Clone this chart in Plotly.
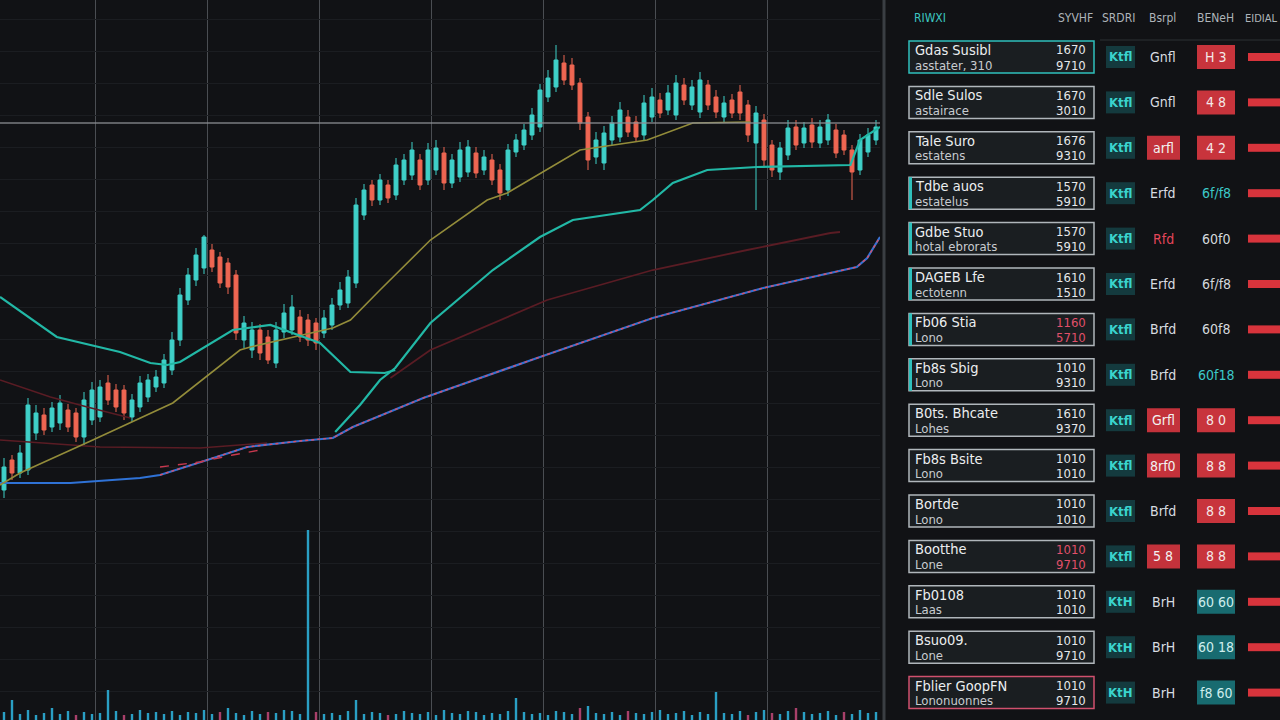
import plotly.graph_objects as go

W, H = 1280, 720

# ---------------- candle data (price units) ----------------
opens = [230,260,247,250,287,305,293,297,310,307,
         283,300,303,337,330,330,303,313,323,333,
         337,350,380,420,440,452,470,463,457,445,
         380,370,390,383,357,388,390,403,400,397,
         387,395,415,417,437,505,535,520,535,525,
         540,545,560,540,550,567,537,543,548,567,
         550,560,550,530,568,575,585,593,623,633,
         657,655,637,603,563,557,580,583,603,598,
         585,603,620,610,605,635,615,608,635,623,
         603,620,628,615,577,600,575,548,565,593,
         577,595,577,580,590,585,570,550,568,580]
closes = [253,247,267,315,307,290,312,317,293,283,
          320,330,333,320,313,307,320,337,340,343,
          360,380,425,445,465,483,453,437,433,387,
          397,390,367,360,390,407,413,383,380,377,
          402,415,430,443,515,530,520,540,522,555,
          560,570,535,570,572,537,560,570,573,547,
          563,540,527,570,580,590,605,630,642,660,
          640,635,597,560,580,587,597,610,588,583,
          617,623,607,627,637,620,633,640,615,608,
          617,607,607,585,607,560,550,572,592,575,
          592,578,593,600,567,570,548,580,585,593]
highs = [262,265,275,322,315,312,318,325,316,312,
         328,338,340,345,336,335,326,344,346,350,
         366,388,432,452,472,485,476,468,462,450,
         404,398,396,390,398,416,425,410,406,402,
         410,422,438,450,522,536,540,546,540,562,
         566,578,566,577,580,573,566,578,580,573,
         570,566,556,576,586,596,612,636,650,675,
         665,662,642,608,588,594,604,618,610,604,
         625,632,627,635,645,642,640,648,640,630,
         624,626,635,620,614,606,580,578,600,600,
         598,602,600,606,596,590,575,586,592,600]
lows = [222,240,242,245,280,285,288,290,288,278,
        275,295,298,315,308,300,298,308,318,328,
        332,345,374,415,434,446,448,432,426,380,
        372,362,360,356,352,382,385,378,374,370,
        382,390,410,412,432,500,514,515,517,520,
        535,540,530,535,545,530,532,538,543,542,
        545,535,520,524,563,570,580,588,618,628,
        635,630,590,550,556,550,575,578,583,578,
        580,598,602,605,600,615,610,602,610,602,
        598,602,600,578,510,552,543,540,560,570,
        572,572,572,575,562,565,520,545,563,575]
volume = [8,20,6,10,5,7,12,6,9,5,
          8,6,7,30,9,5,6,10,7,8,
          6,9,5,8,7,10,6,8,12,7,
          5,9,6,8,7,10,9,6,190,8,
          6,7,5,9,20,6,8,7,5,6,
          9,7,6,8,5,10,7,6,9,8,
          5,7,6,9,22,8,6,7,5,9,
          8,6,12,14,7,6,8,5,9,7,
          6,8,10,6,7,9,5,8,6,28,
          7,6,9,5,8,10,7,6,9,12,
          8,6,7,9,5,8,6,10,7,8]
bars = list(range(len(opens)))

# ---------------- indicator lines ----------------
ma_slow_x = [-0.5, 2, 11.1, 21.1, 29.5, 30.8, 41.1, 43.3, 47, 53.3, 60.4, 62.9, 72, 80.4, 86.1, 93.3]
ma_slow_y = [235, 247, 280, 317, 370, 373, 392, 400, 430, 480, 520, 527, 570, 580, 597, 598]

band_a_x = [-0.5, 6.6, 14.5, 18.3, 20.4, 22, 28.6, 33.3, 39.5, 43.3, 47.6, 48.9]
band_a_y = [423, 383, 368, 357, 355, 358, 390, 395, 377, 348, 347, 350]

band_b_x = [41.4, 44.5, 47, 48.9, 53.3, 61.1, 67, 71.1, 79.5, 81.1, 83.6, 87.9, 94.1, 105.8, 107, 109.5]
band_b_y = [288, 315, 340, 352, 397, 450, 483, 500, 510, 520, 537, 550, 553, 555, 580, 593]

base_x = [-0.5, 8.3, 17, 19.5, 25.4, 30.4, 37, 41.1, 43.6, 52.4, 67, 81.1, 94.9, 106.6, 107.9, 109.5]
base_y = [237, 237, 242, 245, 260, 273, 279, 282, 293, 322, 363, 402, 432, 453, 462, 483]

dash_x = [19.5, 24.5, 28.6, 32]
dash_y = [253, 258, 265, 270]

dark1_x = [-0.5, 5.8, 10.4, 15.8]
dark1_y = [340, 323, 313, 302]
dark2_x = [-0.5, 12, 24.5, 32.9]
dark2_y = [280, 273, 272, 277]
dark3_x = [48.3, 53.3, 67.9, 81.1, 92.9, 103.3, 104.5]
dark3_y = [342, 370, 420, 450, 470, 487, 488]

price_line = 597

# ---------------- side panel data ----------------
panel_headers = ["RIWXI", "SYVHF", "SRDRI", "Bsrpl", "BENeH", "EIDIAL"]
row_titles = ["Gdas Susibl", "Sdle Sulos", "Tale Suro", "Tdbe auos", "Gdbe Stuo",
              "DAGEB Lfe", "Fb06 Stia", "Fb8s Sbig", "B0ts. Bhcate", "Fb8s Bsite",
              "Bortde", "Bootthe", "Fb0108", "Bsuo09.", "Fblier GoopFN"]
row_subs = ["asstater, 310", "astairace", "estatens", "estatelus", "hotal ebrorats",
            "ectotenn", "Lono", "Lono", "Lohes", "Lono",
            "Lono", "Lone", "Laas", "Lone", "Lononuonnes"]
row_num_top = ["1670", "1670", "1676", "1570", "1570", "1610", "1160", "1010", "1610", "1010",
               "1010", "1010", "1010", "1010", "1010"]
row_num_bot = ["9710", "3010", "9310", "5910", "5910", "1510", "5710", "9310", "9370", "1010",
               "1010", "9710", "1010", "9710", "9710"]
row_num_red = [0, 0, 0, 0, 0, 0, 1, 0, 0, 0, 0, 1, 0, 0, 0]
row_border = ["teal", "gray", "gray", "accent", "accent", "accent", "accent", "accent",
              "gray", "gray", "gray", "gray", "gray", "gray", "pink"]
col2_text = ["Ktfl"] * 12 + ["KtH"] * 3
col3_text = ["Gnfl", "Gnfl", "arfl", "Erfd", "Rfd", "Erfd", "Brfd", "Brfd", "Grfl", "8rf0",
             "Brfd", "5 8", "BrH", "BrH", "BrH"]
col3_style = ["w", "w", "rb", "w", "rt", "w", "w", "w", "rb", "rb", "w", "rb", "w", "w", "w"]
col4_text = ["H 3", "4 8", "4 2", "6f/f8", "60f0", "6f/f8", "60f8", "60f18", "8 0", "8 8",
             "8 8", "8 8", "60 60", "60 18", "f8 60"]
col4_style = ["rb", "rb", "rb", "t", "w", "w", "w", "t", "rb", "rb", "rb", "rb", "tb", "tb", "tb"]

# ---------------- colours ----------------
BG = "#111215"
PANEL = "#22262a"
UP = "#3fd0c8"
DOWN = "#ee6652"
TEAL = "#22b8a6"
OLIVE = "#938c3a"
BLUE = "#2f72d6"
DARKRED = "#5a1c24"
COND = "DejaVu Sans Condensed, Liberation Sans Narrow, DejaVu Sans, sans-serif"

fig = go.Figure()

# volume bars: mostly blue-teal, a few pinkish
vol_colors = []
for i, (o, c) in enumerate(zip(opens, closes)):
    vol_colors.append("#a8406a" if (c < o and i % 3 == 0) else "#2a9fc4")
fig.add_trace(go.Bar(x=bars, y=volume, yaxis="y2", width=0.3,
                     marker=dict(color=vol_colors, line=dict(width=0)), hoverinfo="skip"))

def line(x, y, color, width=2, dash="solid", opacity=1.0):
    fig.add_trace(go.Scatter(x=x, y=y, mode="lines", line=dict(color=color, width=width, dash=dash),
                             opacity=opacity, hoverinfo="skip"))

line(dark1_x, dark1_y, DARKRED, 1.5)
line(dark2_x, dark2_y, DARKRED, 1.5)
line(dark3_x, dark3_y, DARKRED, 1.8)
line(base_x, base_y, BLUE, 2.2)
line(base_x[3:], base_y[3:], "#d8506a", 1.4, "dot")
line(dash_x, dash_y, "#c8384e", 1.4, "dash")
line(ma_slow_x, ma_slow_y, OLIVE, 1.6)
line(band_a_x, band_a_y, TEAL, 2.2)
line(band_b_x, band_b_y, TEAL, 2.2)

fig.add_trace(go.Candlestick(
    x=bars, open=opens, high=highs, low=lows, close=closes,
    increasing=dict(line=dict(color=UP, width=1), fillcolor=UP),
    decreasing=dict(line=dict(color=DOWN, width=1), fillcolor=DOWN),
    whiskerwidth=0, hoverinfo="skip"))

fig.add_hline(y=price_line, line=dict(color="#8c8f94", width=1.5), opacity=0.85)

# ---------------- side panel drawing ----------------
shapes = []
annots = []

def px(x):
    return x / W

def py(y):
    return 1 - y / H

def rect(x0, y0, x1, y1, fill=None, border=None, bw=1.2):
    shapes.append(dict(type="rect", xref="paper", yref="paper",
                       x0=px(x0), x1=px(x1), y0=py(y1), y1=py(y0),
                       fillcolor=fill if fill else "rgba(0,0,0,0)",
                       line=dict(color=border if border else "rgba(0,0,0,0)", width=bw if border else 0),
                       layer="above"))

def text(x, y, s, color, size, anchor="left", bold=False, family=COND):
    annots.append(dict(xref="paper", yref="paper", x=px(x), y=py(y), text=("<b>%s</b>" % s) if bold else s,
                       showarrow=False, xanchor=anchor, yanchor="middle",
                       font=dict(color=color, size=size, family=family)))

rect(884, 0, 1280, 720, fill=PANEL)
shapes.append(dict(type="line", xref="paper", yref="paper", x0=px(884), x1=px(884), y0=0, y1=1,
                   line=dict(color="#3a3e43", width=3), layer="above"))
shapes.append(dict(type="line", xref="paper", yref="paper", x0=px(1100), x1=1, y0=py(40), y1=py(40),
                   line=dict(color="#2c3034", width=1), layer="above"))

header_pos = [930, 1075, 1118, 1162, 1215, 1279]
for i, h in enumerate(panel_headers):
    if i == len(panel_headers) - 1:
        text(header_pos[i], 18, h, "#aeb4b9", 11, anchor="right")
    else:
        text(header_pos[i], 18, h, "#3cc6c0" if i == 0 else "#aeb4b9", 12, anchor="center")

border_col = {"teal": "#2fc0bc", "gray": "#b0b6bb", "accent": "#b0b6bb", "pink": "#d0506e"}
for i in range(len(row_titles)):
    cy = 57 + i * 45.4
    rect(909, cy - 16, 1094, cy + 16, fill="#1a1e21", border=border_col[row_border[i]], bw=1.5)
    if row_border[i] == "accent":
        rect(909, cy - 16, 912, cy + 16, fill="#2fc0bc")
    text(913, cy - 7, row_titles[i], "#eceef0", 14.5)
    text(913, cy + 8, row_subs[i], "#c8ccd0", 13)
    ncol = "#e0506a" if row_num_red[i] else "#e6e8ea"
    text(1088, cy - 7, row_num_top[i], ncol, 13, anchor="right")
    text(1088, cy + 8, row_num_bot[i], ncol, 13, anchor="right")

    rect(1106, cy - 11, 1135, cy + 11, fill="#143a3e")
    text(1120, cy, col2_text[i], "#3ad4cd", 13, anchor="center", bold=True)

    s3 = col3_style[i]
    if s3 == "rb":
        rect(1147, cy - 12, 1180, cy + 12, fill="#c3323b")
        text(1163, cy, col3_text[i], "#f2f2f2", 14, anchor="center")
    else:
        text(1163, cy, col3_text[i], "#e5465a" if s3 == "rt" else "#d8dce0", 14, anchor="center")

    s4 = col4_style[i]
    if s4 == "rb":
        rect(1197, cy - 12, 1235, cy + 12, fill="#c8343c")
        text(1216, cy, col4_text[i], "#f4e8e8", 14, anchor="center")
    elif s4 == "tb":
        rect(1197, cy - 12, 1235, cy + 12, fill="#186b70")
        text(1216, cy, col4_text[i], "#cfeeee", 14, anchor="center")
    else:
        text(1216, cy, col4_text[i], "#3cc8c8" if s4 == "t" else "#d4d8dc", 14, anchor="center")

    rect(1248, cy - 4, 1280, cy + 4, fill="#d8343c")

fig.update_layout(
    width=W, height=H, margin=dict(l=0, r=0, t=0, b=0),
    paper_bgcolor=BG, plot_bgcolor=BG, showlegend=False,
    xaxis=dict(domain=[0, 880 / W], range=[-0.5, 109.5], showgrid=True, gridcolor="#4a4d52", gridwidth=1,
               dtick=14, tick0=11.375, showticklabels=False, zeroline=False, showline=False,
               rangeslider=dict(visible=False), fixedrange=True),
    yaxis=dict(domain=[0, 1], range=[0, 720], showgrid=True, gridcolor="#1b1d21", dtick=32, tick0=29,
               showticklabels=False, zeroline=False, showline=False),
    yaxis2=dict(overlaying="y", range=[0, 720], visible=False),
    shapes=shapes, annotations=annots,
)

fig.write_html("out.html", config={"displayModeBar": False},
               post_script="document.body.style.margin='0';document.body.style.overflow='hidden';"
                           "document.body.style.background='#111215';")
